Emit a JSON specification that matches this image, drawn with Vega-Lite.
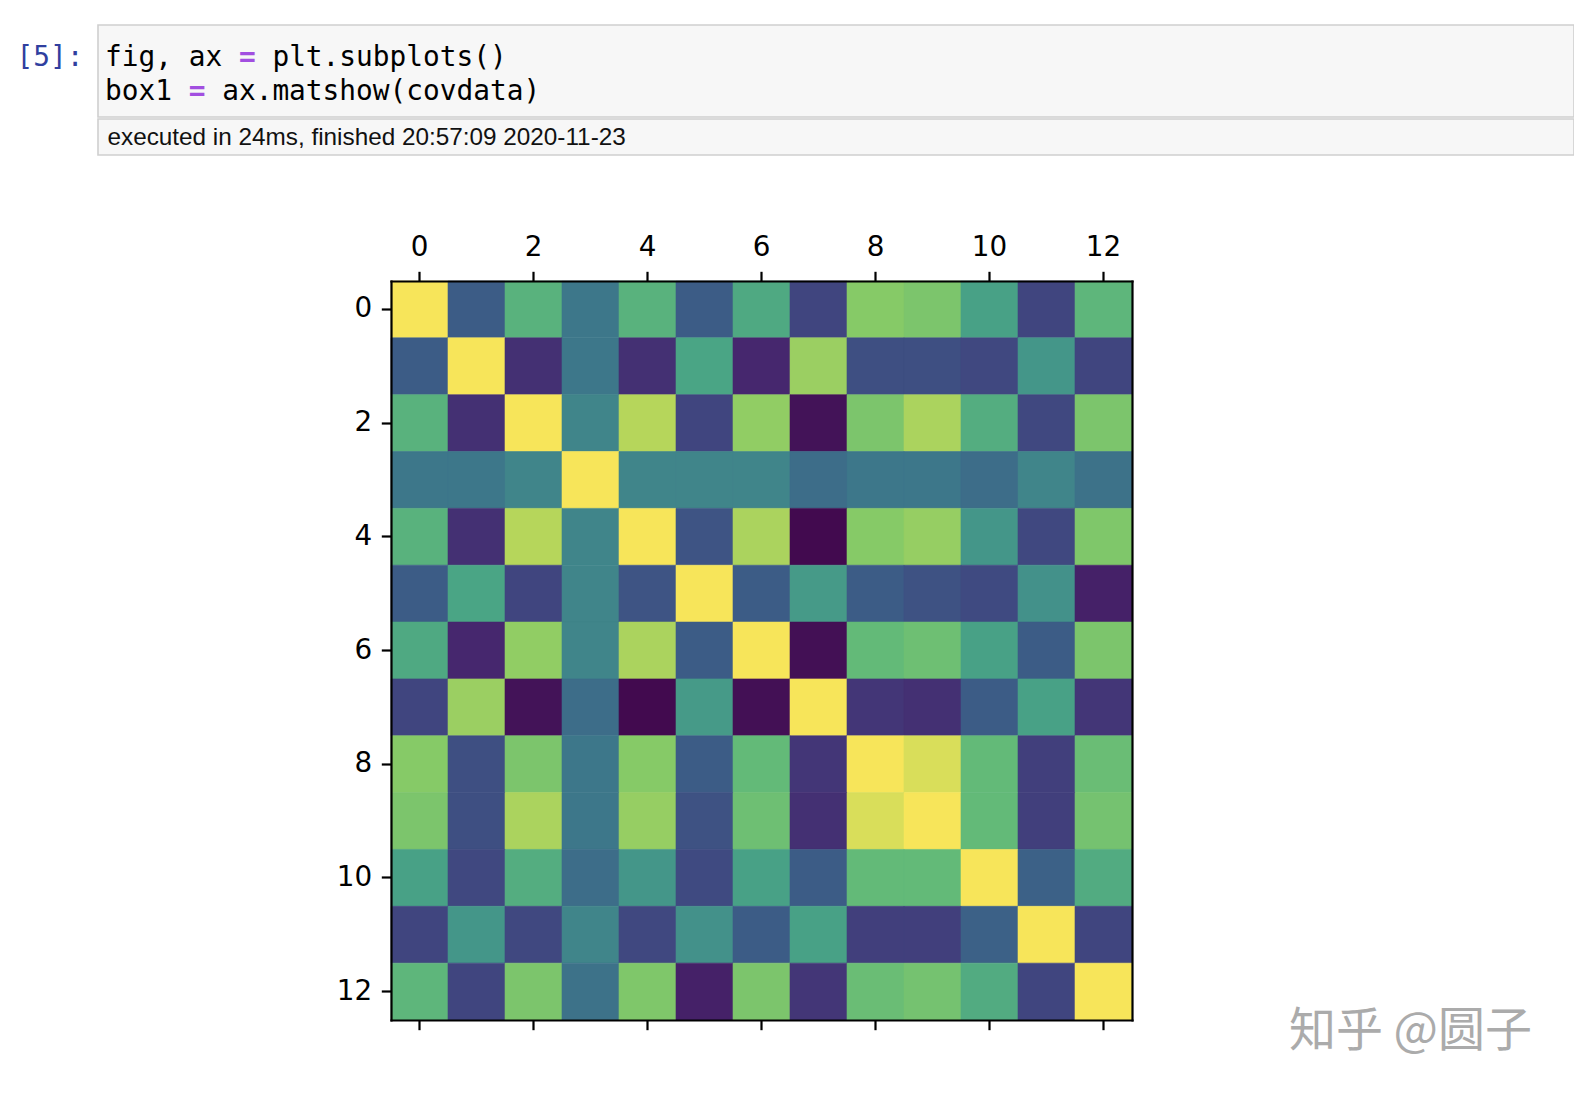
{
  "$schema": "https://vega.github.io/schema/vega-lite/v6.json",
  "padding": {"left": 15, "top": 24, "right": 0, "bottom": 20},
  "background": "white",
  "spacing": 77,
  "vconcat": [
    {
      "spacing": 0,
      "vconcat": [
        {
          "width": 1476,
          "height": 92,
          "view": {"fill": "#f7f7f7", "stroke": "#cfcfcf", "strokeWidth": 1.6},
          "data": {"values": [
            {"line": 1, "col": 0, "tok": "fig, ax", "kind": "code"},
            {"line": 1, "col": 8, "tok": "=", "kind": "op"},
            {"line": 1, "col": 10, "tok": "plt.subplots()", "kind": "code"},
            {"line": 2, "col": 0, "tok": "box1", "kind": "code"},
            {"line": 2, "col": 5, "tok": "=", "kind": "op"},
            {"line": 2, "col": 7, "tok": "ax.matshow(covdata)", "kind": "code"},
            {"line": 1, "col": -0.87, "tok": "[5]:", "kind": "prompt"}
          ]},
          "encoding": {
            "x": {"field": "col", "type": "quantitative", "scale": {"domain": [0, 88.17], "nice": false, "zero": false}, "axis": null},
            "y": {"field": "line", "type": "quantitative", "scale": {"domain": [0, 2.714], "nice": false, "reverse": true}, "axis": null},
            "text": {"field": "tok"}
          },
          "layer": [
            {
              "transform": [{"filter": "datum.kind == 'code'"}],
              "mark": {"type": "text", "align": "left", "baseline": "alphabetic", "font": "DejaVu Sans Mono", "fontSize": 27.8, "color": "#000000", "dx": 7, "dy": 7.4}
            },
            {
              "transform": [{"filter": "datum.kind == 'op'"}],
              "mark": {"type": "text", "align": "left", "baseline": "alphabetic", "font": "DejaVu Sans Mono", "fontSize": 27.8, "fontWeight": "bold", "color": "#a24fe0", "dx": 7, "dy": 7.4}
            },
            {
              "transform": [{"filter": "datum.kind == 'prompt'"}],
              "mark": {"type": "text", "align": "right", "baseline": "alphabetic", "font": "DejaVu Sans Mono", "fontSize": 27.8, "color": "#303f9f", "dy": 7.4}
            }
          ]
        },
        {
          "width": 1476,
          "height": 36,
          "view": {"fill": "#f7f7f7", "stroke": "#cfcfcf", "strokeWidth": 1.6},
          "data": {"values": [
            {"col": 0, "tok": "executed in 24ms, finished 20:57:09 2020-11-23"}
          ]},
          "mark": {"type": "text", "align": "left", "baseline": "alphabetic", "font": "Liberation Sans", "fontSize": 24.3, "color": "#111111", "dx": 9.5, "dy": 7.8},
          "encoding": {
            "x": {"field": "col", "type": "quantitative", "scale": {"domain": [0, 88.17], "nice": false, "zero": false}, "axis": null},
            "text": {"field": "tok"}
          }
        }
      ]
    },
    {
      "spacing": 0,
      "hconcat": [
        {
          "width": 238,
          "height": 739,
          "view": {"stroke": null, "fill": "transparent"},
          "data": {"values": []},
          "mark": "point"
        },
        {
          "width": 741,
          "height": 739,
          "view": {"stroke": null},
          "title": {
            "text": "知乎 @圆子",
            "orient": "bottom",
            "anchor": "end",
            "frame": "group",
            "dx": 400,
            "offset": 15,
            "baseline": "alphabetic",
            "font": "Noto Sans CJK SC",
            "fontSize": 47,
            "fontWeight": "normal",
            "color": "#ababab"
          },
          "data": {"values": [
            {"r":0,"c":0,"v":1},{"r":0,"c":1,"v":0.29},{"r":0,"c":2,"v":0.66},{"r":0,"c":3,"v":0.40},{"r":0,"c":4,"v":0.66},{"r":0,"c":5,"v":0.29},{"r":0,"c":6,"v":0.62},{"r":0,"c":7,"v":0.20},{"r":0,"c":8,"v":0.80},{"r":0,"c":9,"v":0.77},{"r":0,"c":10,"v":0.58},{"r":0,"c":11,"v":0.20},{"r":0,"c":12,"v":0.68},
            {"r":1,"c":0,"v":0.29},{"r":1,"c":1,"v":1},{"r":1,"c":2,"v":0.13},{"r":1,"c":3,"v":0.40},{"r":1,"c":4,"v":0.13},{"r":1,"c":5,"v":0.60},{"r":1,"c":6,"v":0.10},{"r":1,"c":7,"v":0.84},{"r":1,"c":8,"v":0.24},{"r":1,"c":9,"v":0.24},{"r":1,"c":10,"v":0.21},{"r":1,"c":11,"v":0.53},{"r":1,"c":12,"v":0.20},
            {"r":2,"c":0,"v":0.66},{"r":2,"c":1,"v":0.13},{"r":2,"c":2,"v":1},{"r":2,"c":3,"v":0.46},{"r":2,"c":4,"v":0.89},{"r":2,"c":5,"v":0.20},{"r":2,"c":6,"v":0.82},{"r":2,"c":7,"v":0.03},{"r":2,"c":8,"v":0.77},{"r":2,"c":9,"v":0.87},{"r":2,"c":10,"v":0.64},{"r":2,"c":11,"v":0.21},{"r":2,"c":12,"v":0.77},
            {"r":3,"c":0,"v":0.40},{"r":3,"c":1,"v":0.40},{"r":3,"c":2,"v":0.46},{"r":3,"c":3,"v":1},{"r":3,"c":4,"v":0.46},{"r":3,"c":5,"v":0.46},{"r":3,"c":6,"v":0.46},{"r":3,"c":7,"v":0.36},{"r":3,"c":8,"v":0.40},{"r":3,"c":9,"v":0.40},{"r":3,"c":10,"v":0.36},{"r":3,"c":11,"v":0.46},{"r":3,"c":12,"v":0.38},
            {"r":4,"c":0,"v":0.66},{"r":4,"c":1,"v":0.13},{"r":4,"c":2,"v":0.89},{"r":4,"c":3,"v":0.46},{"r":4,"c":4,"v":1},{"r":4,"c":5,"v":0.26},{"r":4,"c":6,"v":0.87},{"r":4,"c":7,"v":0.00},{"r":4,"c":8,"v":0.80},{"r":4,"c":9,"v":0.83},{"r":4,"c":10,"v":0.53},{"r":4,"c":11,"v":0.21},{"r":4,"c":12,"v":0.78},
            {"r":5,"c":0,"v":0.29},{"r":5,"c":1,"v":0.60},{"r":5,"c":2,"v":0.20},{"r":5,"c":3,"v":0.46},{"r":5,"c":4,"v":0.26},{"r":5,"c":5,"v":1},{"r":5,"c":6,"v":0.29},{"r":5,"c":7,"v":0.55},{"r":5,"c":8,"v":0.29},{"r":5,"c":9,"v":0.25},{"r":5,"c":10,"v":0.22},{"r":5,"c":11,"v":0.51},{"r":5,"c":12,"v":0.08},
            {"r":6,"c":0,"v":0.62},{"r":6,"c":1,"v":0.10},{"r":6,"c":2,"v":0.82},{"r":6,"c":3,"v":0.46},{"r":6,"c":4,"v":0.87},{"r":6,"c":5,"v":0.29},{"r":6,"c":6,"v":1},{"r":6,"c":7,"v":0.02},{"r":6,"c":8,"v":0.70},{"r":6,"c":9,"v":0.73},{"r":6,"c":10,"v":0.58},{"r":6,"c":11,"v":0.29},{"r":6,"c":12,"v":0.77},
            {"r":7,"c":0,"v":0.20},{"r":7,"c":1,"v":0.84},{"r":7,"c":2,"v":0.03},{"r":7,"c":3,"v":0.36},{"r":7,"c":4,"v":0.00},{"r":7,"c":5,"v":0.55},{"r":7,"c":6,"v":0.02},{"r":7,"c":7,"v":1},{"r":7,"c":8,"v":0.15},{"r":7,"c":9,"v":0.13},{"r":7,"c":10,"v":0.29},{"r":7,"c":11,"v":0.58},{"r":7,"c":12,"v":0.15},
            {"r":8,"c":0,"v":0.80},{"r":8,"c":1,"v":0.24},{"r":8,"c":2,"v":0.77},{"r":8,"c":3,"v":0.40},{"r":8,"c":4,"v":0.80},{"r":8,"c":5,"v":0.29},{"r":8,"c":6,"v":0.70},{"r":8,"c":7,"v":0.15},{"r":8,"c":8,"v":1},{"r":8,"c":9,"v":0.95},{"r":8,"c":10,"v":0.70},{"r":8,"c":11,"v":0.18},{"r":8,"c":12,"v":0.72},
            {"r":9,"c":0,"v":0.77},{"r":9,"c":1,"v":0.24},{"r":9,"c":2,"v":0.87},{"r":9,"c":3,"v":0.40},{"r":9,"c":4,"v":0.83},{"r":9,"c":5,"v":0.25},{"r":9,"c":6,"v":0.73},{"r":9,"c":7,"v":0.13},{"r":9,"c":8,"v":0.95},{"r":9,"c":9,"v":1},{"r":9,"c":10,"v":0.70},{"r":9,"c":11,"v":0.18},{"r":9,"c":12,"v":0.75},
            {"r":10,"c":0,"v":0.58},{"r":10,"c":1,"v":0.21},{"r":10,"c":2,"v":0.64},{"r":10,"c":3,"v":0.36},{"r":10,"c":4,"v":0.53},{"r":10,"c":5,"v":0.22},{"r":10,"c":6,"v":0.58},{"r":10,"c":7,"v":0.29},{"r":10,"c":8,"v":0.70},{"r":10,"c":9,"v":0.70},{"r":10,"c":10,"v":1},{"r":10,"c":11,"v":0.31},{"r":10,"c":12,"v":0.63},
            {"r":11,"c":0,"v":0.20},{"r":11,"c":1,"v":0.53},{"r":11,"c":2,"v":0.21},{"r":11,"c":3,"v":0.46},{"r":11,"c":4,"v":0.21},{"r":11,"c":5,"v":0.51},{"r":11,"c":6,"v":0.29},{"r":11,"c":7,"v":0.58},{"r":11,"c":8,"v":0.18},{"r":11,"c":9,"v":0.18},{"r":11,"c":10,"v":0.31},{"r":11,"c":11,"v":1},{"r":11,"c":12,"v":0.20},
            {"r":12,"c":0,"v":0.68},{"r":12,"c":1,"v":0.20},{"r":12,"c":2,"v":0.77},{"r":12,"c":3,"v":0.38},{"r":12,"c":4,"v":0.78},{"r":12,"c":5,"v":0.08},{"r":12,"c":6,"v":0.77},{"r":12,"c":7,"v":0.15},{"r":12,"c":8,"v":0.72},{"r":12,"c":9,"v":0.75},{"r":12,"c":10,"v":0.63},{"r":12,"c":11,"v":0.20},{"r":12,"c":12,"v":1}
          ]},
          "layer": [
            {
              "mark": {"type": "rect", "strokeWidth": 0.6},
              "encoding": {
                "x": {"field": "c", "type": "ordinal", "scale": {"paddingInner": 0, "paddingOuter": 0},
                  "axis": {"orient": "top", "values": [0, 2, 4, 6, 8, 10, 12], "labelAngle": 0, "title": null, "grid": false,
                    "domain": true, "domainColor": "#000000", "domainWidth": 2.2, "domainCap": "square",
                    "ticks": true, "tickColor": "#000000", "tickWidth": 2.2, "tickSize": 9.7,
                    "labelPadding": 9.5, "labelFont": "DejaVu Sans", "labelFontSize": 27.8, "labelColor": "#000000",
                    "labelOverlap": false, "labelFlush": false, "zindex": 1}},
                "y": {"field": "r", "type": "ordinal", "scale": {"paddingInner": 0, "paddingOuter": 0},
                  "axis": {"orient": "left", "values": [0, 2, 4, 6, 8, 10, 12], "title": null, "grid": false,
                    "domain": true, "domainColor": "#000000", "domainWidth": 2.2, "domainCap": "square",
                    "ticks": true, "tickColor": "#000000", "tickWidth": 2.2, "tickSize": 9.7,
                    "labelPadding": 9.7, "labelFont": "DejaVu Sans", "labelFontSize": 27.8, "labelColor": "#000000",
                    "labelOverlap": false, "zindex": 1}},
                "color": {"field": "v", "type": "quantitative", "legend": null,
                  "scale": {"domain": [0, 0.1, 0.2, 0.3, 0.4, 0.5, 0.6, 0.7, 0.8, 0.9, 1],
                    "range": ["#420a4f", "#46276e", "#40457f", "#3c5e87", "#3d778a", "#428f8a", "#4aa585", "#63ba78", "#86ca67", "#bbd75a", "#f7e55a"],
                    "interpolate": "rgb"}},
                "stroke": {"field": "v", "type": "quantitative", "legend": null,
                  "scale": {"domain": [0, 0.1, 0.2, 0.3, 0.4, 0.5, 0.6, 0.7, 0.8, 0.9, 1],
                    "range": ["#420a4f", "#46276e", "#40457f", "#3c5e87", "#3d778a", "#428f8a", "#4aa585", "#63ba78", "#86ca67", "#bbd75a", "#f7e55a"],
                    "interpolate": "rgb"}}
              }
            },
            {
              "mark": {"type": "rect", "opacity": 0},
              "encoding": {
                "x": {"field": "c", "type": "ordinal",
                  "axis": {"orient": "bottom", "values": [0, 2, 4, 6, 8, 10, 12], "labels": false, "title": null, "grid": false,
                    "domain": true, "domainColor": "#000000", "domainWidth": 2.2, "domainCap": "square",
                    "ticks": true, "tickColor": "#000000", "tickWidth": 2.2, "tickSize": 9.7, "zindex": 1}},
                "y": {"field": "r", "type": "ordinal",
                  "axis": {"orient": "right", "labels": false, "ticks": false, "title": null, "grid": false,
                    "domain": true, "domainColor": "#000000", "domainWidth": 2.2, "domainCap": "square", "zindex": 1}}
              }
            }
          ],
          "resolve": {"axis": {"x": "independent", "y": "independent"}}
        }
      ]
    }
  ]
}
